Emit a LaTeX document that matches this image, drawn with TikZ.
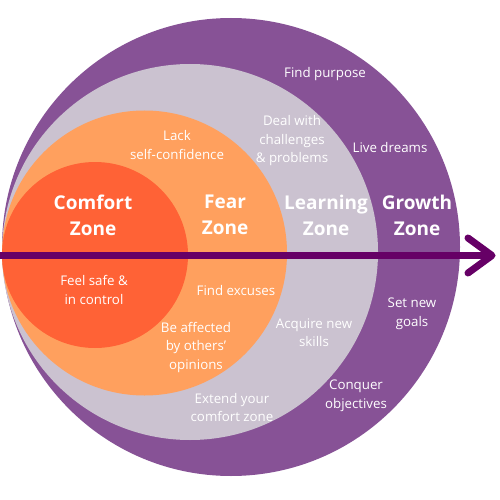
\documentclass[tikz,border=0pt]{standalone}
\usepackage{fontspec}
\setmainfont{Open Sans}
\definecolor{growthc}{RGB}{135,82,150}
\definecolor{learnc}{RGB}{203,194,208}
\definecolor{fearc}{RGB}{255,160,94}
\definecolor{comfc}{RGB}{255,98,54}
\definecolor{arrowc}{RGB}{102,0,102}
\begin{document}
\begin{tikzpicture}[x=1pt,y=-1pt,
  zonetitle/.style={text=white,font=\fontsize{19}{26}\selectfont\bfseries,align=center,inner sep=0pt},
  zonetext/.style={text=white,font=\fontsize{13.3}{18.5}\selectfont,align=center,inner sep=0pt}]
\useasboundingbox (0,0) rectangle (500,500);
% circles
\fill[growthc] (231,247) circle[radius=229];
\fill[learnc] (190,252) circle[radius=188];
\fill[fearc] (144.5,253) circle[radius=142.5];
\fill[comfc] (95,255) circle[radius=93];
% arrow
\coordinate (astart) at (0,255.5);
\coordinate (aend) at (492,255.5);
\coordinate (wingup) at (468,238);
\coordinate (wingdn) at (468,273);
\draw[arrowc,line width=7pt] (astart) -- (aend);
\draw[arrowc,line width=7pt,line cap=round,line join=round] (wingup) -- (aend) -- (wingdn);
% titles
\node[zonetitle] (comfort) at (93,215) {Comfort\\Zone};
\node[zonetitle] (fear) at (225,215) {Fear\\Zone};
\node[zonetitle] (learning) at (326,215) {Learning\\Zone};
\node[zonetitle] (growth) at (417,215) {Growth\\Zone};
% texts
\node[zonetext] (purpose) at (325,74) {Find purpose};
\node[zonetext] (deal) at (292,141) {Deal with\\challenges\\\& problems};
\node[zonetext] (dreams) at (390,148) {Live dreams};
\node[zonetext] (lack) at (177,145) {Lack\\self-confidence};
\node[zonetext] (safe) at (94,290) {Feel safe \&\\in control};
\node[zonetext] (excuses) at (236,291) {Find excuses};
\node[zonetext] (affected) at (196,347.5) {Be affected\\by others'\\opinions};
\node[zonetext] (extend) at (232,407.5) {Extend your\\comfort zone};
\node[zonetext] (acquire) at (314,332.5) {Acquire new\\skills};
\node[zonetext] (goals) at (412,314) {Set new\\goals};
\node[zonetext] (conquer) at (356,396) {Conquer\\objectives};
\end{tikzpicture}
\end{document}
